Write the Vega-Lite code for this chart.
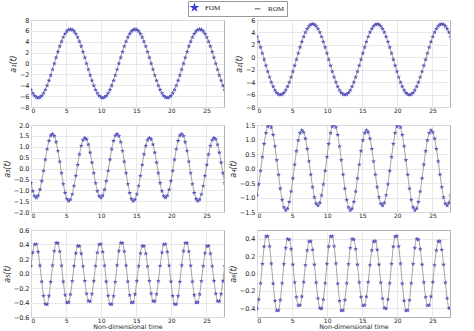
{
"$schema": "https://vega.github.io/schema/vega-lite/v6.json",
"background": "white",
"padding": {"left": 2, "top": 0, "right": 4, "bottom": 0},
"config": {
"font": "DejaVu Sans",
"view": {"stroke": "#b3b3b3", "strokeWidth": 1},
"axis": {"labelFontSize": 6.5, "labelColor": "#222", "titleFontSize": 8, "titleFontWeight": "normal", "titleColor": "#222222", "gridColor": "#e2e2e2", "gridWidth": 0.8, "domain": false, "ticks": false, "tickSize": 0, "labelPadding": 2, "titlePadding": 2},
"axisX": {"labelPadding": 0, "labelFontSize": 6},
"legend": {"labelFont": "Liberation Serif", "labelFontSize": 7, "labelColor": "#222", "symbolSize": 30, "labelOffset": 7}
},
"datasets": {
"a1": [{"t":0,"v":-4.83},{"t":0.26,"v":-5.46},{"t":0.51,"v":-5.92},{"t":0.77,"v":-6.21},{"t":1.02,"v":-6.3},{"t":1.28,"v":-6.21},{"t":1.53,"v":-5.92},{"t":1.79,"v":-5.46},{"t":2.04,"v":-4.83},{"t":2.3,"v":-4.05},{"t":2.56,"v":-3.15},{"t":2.81,"v":-2.15},{"t":3.07,"v":-1.09},{"t":3.32,"v":0},{"t":3.58,"v":1.09},{"t":3.83,"v":2.15},{"t":4.09,"v":3.15},{"t":4.35,"v":4.05},{"t":4.6,"v":4.83},{"t":4.86,"v":5.46},{"t":5.11,"v":5.92},{"t":5.37,"v":6.21},{"t":5.62,"v":6.3},{"t":5.88,"v":6.21},{"t":6.13,"v":5.92},{"t":6.39,"v":5.46},{"t":6.65,"v":4.83},{"t":6.9,"v":4.05},{"t":7.16,"v":3.15},{"t":7.41,"v":2.15},{"t":7.67,"v":1.09},{"t":7.92,"v":0},{"t":8.18,"v":-1.09},{"t":8.43,"v":-2.15},{"t":8.69,"v":-3.15},{"t":8.95,"v":-4.05},
{"t":9.2,"v":-4.83},{"t":9.46,"v":-5.46},{"t":9.71,"v":-5.92},{"t":9.97,"v":-6.21},{"t":10.22,"v":-6.3},{"t":10.48,"v":-6.21},{"t":10.73,"v":-5.92},{"t":10.99,"v":-5.46},{"t":11.25,"v":-4.83},{"t":11.5,"v":-4.05},{"t":11.76,"v":-3.15},{"t":12.01,"v":-2.15},{"t":12.27,"v":-1.09},{"t":12.52,"v":0},{"t":12.78,"v":1.09},{"t":13.04,"v":2.15},{"t":13.29,"v":3.15},{"t":13.55,"v":4.05},{"t":13.8,"v":4.83},{"t":14.06,"v":5.46},{"t":14.31,"v":5.92},{"t":14.57,"v":6.21},{"t":14.82,"v":6.3},{"t":15.08,"v":6.21},{"t":15.34,"v":5.92},{"t":15.59,"v":5.46},{"t":15.85,"v":4.83},{"t":16.1,"v":4.05},{"t":16.36,"v":3.15},{"t":16.61,"v":2.15},{"t":16.87,"v":1.09},{"t":17.13,"v":0},{"t":17.38,"v":-1.09},{"t":17.64,"v":-2.15},{"t":17.89,"v":-3.15},{"t":18.15,"v":-4.05},
{"t":18.4,"v":-4.83},{"t":18.66,"v":-5.46},{"t":18.91,"v":-5.92},{"t":19.17,"v":-6.21},{"t":19.43,"v":-6.3},{"t":19.68,"v":-6.21},{"t":19.94,"v":-5.92},{"t":20.19,"v":-5.46},{"t":20.45,"v":-4.83},{"t":20.7,"v":-4.05},{"t":20.96,"v":-3.15},{"t":21.21,"v":-2.15},{"t":21.47,"v":-1.09},{"t":21.73,"v":0},{"t":21.98,"v":1.09},{"t":22.24,"v":2.15},{"t":22.49,"v":3.15},{"t":22.75,"v":4.05},{"t":23.0,"v":4.83},{"t":23.26,"v":5.46},{"t":23.52,"v":5.92},{"t":23.77,"v":6.21},{"t":24.03,"v":6.3},{"t":24.28,"v":6.21},{"t":24.54,"v":5.92},{"t":24.79,"v":5.46},{"t":25.05,"v":4.83},{"t":25.3,"v":4.05},{"t":25.56,"v":3.15},{"t":25.82,"v":2.15},{"t":26.07,"v":1.09},{"t":26.33,"v":0},{"t":26.58,"v":-1.09},{"t":26.84,"v":-2.15},{"t":27.09,"v":-3.15},{"t":27.35,"v":-4.05},{"t":27.6,"v":-4.83}],
"a2": [{"t":0,"v":3.32},{"t":0.26,"v":2.5},{"t":0.51,"v":1.6},{"t":0.77,"v":0.64},{"t":1.02,"v":-0.35},{"t":1.28,"v":-1.34},{"t":1.53,"v":-2.3},{"t":1.79,"v":-3.2},{"t":2.04,"v":-4.02},{"t":2.3,"v":-4.72},{"t":2.56,"v":-5.29},{"t":2.81,"v":-5.71},{"t":3.07,"v":-5.96},{"t":3.32,"v":-6.05},{"t":3.58,"v":-5.96},{"t":3.83,"v":-5.71},{"t":4.09,"v":-5.29},{"t":4.35,"v":-4.72},{"t":4.6,"v":-4.02},{"t":4.86,"v":-3.2},{"t":5.11,"v":-2.3},{"t":5.37,"v":-1.34},{"t":5.62,"v":-0.35},{"t":5.88,"v":0.64},{"t":6.13,"v":1.6},{"t":6.39,"v":2.5},{"t":6.65,"v":3.32},{"t":6.9,"v":4.02},{"t":7.16,"v":4.59},{"t":7.41,"v":5.01},{"t":7.67,"v":5.26},{"t":7.92,"v":5.35},{"t":8.18,"v":5.26},{"t":8.43,"v":5.01},{"t":8.69,"v":4.59},{"t":8.95,"v":4.02},
{"t":9.2,"v":3.32},{"t":9.46,"v":2.5},{"t":9.71,"v":1.6},{"t":9.97,"v":0.64},{"t":10.22,"v":-0.35},{"t":10.48,"v":-1.34},{"t":10.73,"v":-2.3},{"t":10.99,"v":-3.2},{"t":11.25,"v":-4.02},{"t":11.5,"v":-4.72},{"t":11.76,"v":-5.29},{"t":12.01,"v":-5.71},{"t":12.27,"v":-5.96},{"t":12.52,"v":-6.05},{"t":12.78,"v":-5.96},{"t":13.04,"v":-5.71},{"t":13.29,"v":-5.29},{"t":13.55,"v":-4.72},{"t":13.8,"v":-4.02},{"t":14.06,"v":-3.2},{"t":14.31,"v":-2.3},{"t":14.57,"v":-1.34},{"t":14.82,"v":-0.35},{"t":15.08,"v":0.64},{"t":15.34,"v":1.6},{"t":15.59,"v":2.5},{"t":15.85,"v":3.32},{"t":16.1,"v":4.02},{"t":16.36,"v":4.59},{"t":16.61,"v":5.01},{"t":16.87,"v":5.26},{"t":17.13,"v":5.35},{"t":17.38,"v":5.26},{"t":17.64,"v":5.01},{"t":17.89,"v":4.59},{"t":18.15,"v":4.02},
{"t":18.4,"v":3.32},{"t":18.66,"v":2.5},{"t":18.91,"v":1.6},{"t":19.17,"v":0.64},{"t":19.43,"v":-0.35},{"t":19.68,"v":-1.34},{"t":19.94,"v":-2.3},{"t":20.19,"v":-3.2},{"t":20.45,"v":-4.02},{"t":20.7,"v":-4.72},{"t":20.96,"v":-5.29},{"t":21.21,"v":-5.71},{"t":21.47,"v":-5.96},{"t":21.73,"v":-6.05},{"t":21.98,"v":-5.96},{"t":22.24,"v":-5.71},{"t":22.49,"v":-5.29},{"t":22.75,"v":-4.72},{"t":23.0,"v":-4.02},{"t":23.26,"v":-3.2},{"t":23.52,"v":-2.3},{"t":23.77,"v":-1.34},{"t":24.03,"v":-0.35},{"t":24.28,"v":0.64},{"t":24.54,"v":1.6},{"t":24.79,"v":2.5},{"t":25.05,"v":3.32},{"t":25.3,"v":4.02},{"t":25.56,"v":4.59},{"t":25.82,"v":5.01},{"t":26.07,"v":5.26},{"t":26.33,"v":5.35},{"t":26.58,"v":5.26},{"t":26.84,"v":5.01},{"t":27.09,"v":4.59},{"t":27.35,"v":4.02},{"t":27.6,"v":3.32}],
"a3": [{"t":0,"v":-0.67},{"t":0.26,"v":-1.04},{"t":0.51,"v":-1.27},{"t":0.77,"v":-1.34},{"t":1.02,"v":-1.24},{"t":1.28,"v":-0.97},{"t":1.53,"v":-0.58},{"t":1.79,"v":-0.1},{"t":2.04,"v":0.41},{"t":2.3,"v":0.89},{"t":2.56,"v":1.27},{"t":2.81,"v":1.52},{"t":3.07,"v":1.59},{"t":3.32,"v":1.49},{"t":3.58,"v":1.22},{"t":3.83,"v":0.81},{"t":4.09,"v":0.32},{"t":4.35,"v":-0.21},{"t":4.6,"v":-0.71},{"t":4.86,"v":-1.12},{"t":5.11,"v":-1.39},{"t":5.37,"v":-1.5},{"t":5.62,"v":-1.42},{"t":5.88,"v":-1.18},{"t":6.13,"v":-0.8},{"t":6.39,"v":-0.33},{"t":6.65,"v":0.17},{"t":6.9,"v":0.65},{"t":7.16,"v":1.05},{"t":7.41,"v":1.31},{"t":7.67,"v":1.41},{"t":7.92,"v":1.34},{"t":8.18,"v":1.1},{"t":8.43,"v":0.73},{"t":8.69,"v":0.27},{"t":8.95,"v":-0.21},
{"t":9.2,"v":-0.67},{"t":9.46,"v":-1.04},{"t":9.71,"v":-1.27},{"t":9.97,"v":-1.34},{"t":10.22,"v":-1.24},{"t":10.48,"v":-0.97},{"t":10.73,"v":-0.58},{"t":10.99,"v":-0.1},{"t":11.25,"v":0.41},{"t":11.5,"v":0.89},{"t":11.76,"v":1.27},{"t":12.01,"v":1.52},{"t":12.27,"v":1.59},{"t":12.52,"v":1.49},{"t":12.78,"v":1.22},{"t":13.04,"v":0.81},{"t":13.29,"v":0.32},{"t":13.55,"v":-0.21},{"t":13.8,"v":-0.71},{"t":14.06,"v":-1.12},{"t":14.31,"v":-1.39},{"t":14.57,"v":-1.5},{"t":14.82,"v":-1.42},{"t":15.08,"v":-1.18},{"t":15.34,"v":-0.8},{"t":15.59,"v":-0.33},{"t":15.85,"v":0.17},{"t":16.1,"v":0.65},{"t":16.36,"v":1.05},{"t":16.61,"v":1.31},{"t":16.87,"v":1.41},{"t":17.13,"v":1.34},{"t":17.38,"v":1.1},{"t":17.64,"v":0.73},{"t":17.89,"v":0.27},{"t":18.15,"v":-0.21},
{"t":18.4,"v":-0.67},{"t":18.66,"v":-1.04},{"t":18.91,"v":-1.27},{"t":19.17,"v":-1.34},{"t":19.43,"v":-1.24},{"t":19.68,"v":-0.97},{"t":19.94,"v":-0.58},{"t":20.19,"v":-0.1},{"t":20.45,"v":0.41},{"t":20.7,"v":0.89},{"t":20.96,"v":1.27},{"t":21.21,"v":1.52},{"t":21.47,"v":1.59},{"t":21.73,"v":1.49},{"t":21.98,"v":1.22},{"t":22.24,"v":0.81},{"t":22.49,"v":0.32},{"t":22.75,"v":-0.21},{"t":23.0,"v":-0.71},{"t":23.26,"v":-1.12},{"t":23.52,"v":-1.39},{"t":23.77,"v":-1.5},{"t":24.03,"v":-1.42},{"t":24.28,"v":-1.18},{"t":24.54,"v":-0.8},{"t":24.79,"v":-0.33},{"t":25.05,"v":0.17},{"t":25.3,"v":0.65},{"t":25.56,"v":1.05},{"t":25.82,"v":1.31},{"t":26.07,"v":1.41},{"t":26.33,"v":1.34},{"t":26.58,"v":1.1},{"t":26.84,"v":0.73},{"t":27.09,"v":0.27},{"t":27.35,"v":-0.21},{"t":27.6,"v":-0.67}],
"a4": [{"t":0,"v":-0.92},{"t":0.26,"v":-0.54},{"t":0.51,"v":-0.08},{"t":0.77,"v":0.4},{"t":1.02,"v":0.85},{"t":1.28,"v":1.22},{"t":1.53,"v":1.45},{"t":1.79,"v":1.52},{"t":2.04,"v":1.42},{"t":2.3,"v":1.16},{"t":2.56,"v":0.77},{"t":2.81,"v":0.29},{"t":3.07,"v":-0.21},{"t":3.32,"v":-0.69},{"t":3.58,"v":-1.08},{"t":3.83,"v":-1.34},{"t":4.09,"v":-1.44},{"t":4.35,"v":-1.38},{"t":4.6,"v":-1.15},{"t":4.86,"v":-0.79},{"t":5.11,"v":-0.34},{"t":5.37,"v":0.14},{"t":5.62,"v":0.6},{"t":5.88,"v":0.97},{"t":6.13,"v":1.22},{"t":6.39,"v":1.32},{"t":6.65,"v":1.25},{"t":6.9,"v":1.03},{"t":7.16,"v":0.68},{"t":7.41,"v":0.25},{"t":7.67,"v":-0.21},{"t":7.92,"v":-0.64},{"t":8.18,"v":-0.99},{"t":8.43,"v":-1.21},{"t":8.69,"v":-1.28},{"t":8.95,"v":-1.18},
{"t":9.2,"v":-0.92},{"t":9.46,"v":-0.54},{"t":9.71,"v":-0.08},{"t":9.97,"v":0.4},{"t":10.22,"v":0.85},{"t":10.48,"v":1.22},{"t":10.73,"v":1.45},{"t":10.99,"v":1.52},{"t":11.25,"v":1.42},{"t":11.5,"v":1.16},{"t":11.76,"v":0.77},{"t":12.01,"v":0.29},{"t":12.27,"v":-0.21},{"t":12.52,"v":-0.69},{"t":12.78,"v":-1.08},{"t":13.04,"v":-1.34},{"t":13.29,"v":-1.44},{"t":13.55,"v":-1.38},{"t":13.8,"v":-1.15},{"t":14.06,"v":-0.79},{"t":14.31,"v":-0.34},{"t":14.57,"v":0.14},{"t":14.82,"v":0.6},{"t":15.08,"v":0.97},{"t":15.34,"v":1.22},{"t":15.59,"v":1.32},{"t":15.85,"v":1.25},{"t":16.1,"v":1.03},{"t":16.36,"v":0.68},{"t":16.61,"v":0.25},{"t":16.87,"v":-0.21},{"t":17.13,"v":-0.64},{"t":17.38,"v":-0.99},{"t":17.64,"v":-1.21},{"t":17.89,"v":-1.28},{"t":18.15,"v":-1.18},
{"t":18.4,"v":-0.92},{"t":18.66,"v":-0.54},{"t":18.91,"v":-0.08},{"t":19.17,"v":0.4},{"t":19.43,"v":0.85},{"t":19.68,"v":1.22},{"t":19.94,"v":1.45},{"t":20.19,"v":1.52},{"t":20.45,"v":1.42},{"t":20.7,"v":1.16},{"t":20.96,"v":0.77},{"t":21.21,"v":0.29},{"t":21.47,"v":-0.21},{"t":21.73,"v":-0.69},{"t":21.98,"v":-1.08},{"t":22.24,"v":-1.34},{"t":22.49,"v":-1.44},{"t":22.75,"v":-1.38},{"t":23.0,"v":-1.15},{"t":23.26,"v":-0.79},{"t":23.52,"v":-0.34},{"t":23.77,"v":0.14},{"t":24.03,"v":0.6},{"t":24.28,"v":0.97},{"t":24.54,"v":1.22},{"t":24.79,"v":1.32},{"t":25.05,"v":1.25},{"t":25.3,"v":1.03},{"t":25.56,"v":0.68},{"t":25.82,"v":0.25},{"t":26.07,"v":-0.21},{"t":26.33,"v":-0.64},{"t":26.58,"v":-0.99},{"t":26.84,"v":-1.21},{"t":27.09,"v":-1.28},{"t":27.35,"v":-1.18},{"t":27.6,"v":-0.92}],
"a5": [{"t":0,"v":0.105},{"t":0.26,"v":0.29},{"t":0.51,"v":0.401},{"t":0.77,"v":0.405},{"t":1.02,"v":0.299},{"t":1.28,"v":0.111},{"t":1.53,"v":-0.112},{"t":1.79,"v":-0.307},{"t":2.04,"v":-0.422},{"t":2.3,"v":-0.424},{"t":2.56,"v":-0.311},{"t":2.81,"v":-0.114},{"t":3.07,"v":0.114},{"t":3.32,"v":0.31},{"t":3.58,"v":0.422},{"t":3.83,"v":0.419},{"t":4.09,"v":0.305},{"t":4.35,"v":0.111},{"t":4.6,"v":-0.11},{"t":4.86,"v":-0.297},{"t":5.11,"v":-0.401},{"t":5.37,"v":-0.397},{"t":5.62,"v":-0.287},{"t":5.88,"v":-0.104},{"t":6.13,"v":0.103},{"t":6.39,"v":0.28},{"t":6.65,"v":0.38},{"t":6.9,"v":0.378},{"t":7.16,"v":0.276},{"t":7.41,"v":0.101},{"t":7.67,"v":-0.101},{"t":7.92,"v":-0.277},{"t":8.18,"v":-0.38},{"t":8.43,"v":-0.382},{"t":8.69,"v":-0.282},{"t":8.95,"v":-0.104},
{"t":9.2,"v":0.105},{"t":9.46,"v":0.29},{"t":9.71,"v":0.401},{"t":9.97,"v":0.405},{"t":10.22,"v":0.299},{"t":10.48,"v":0.111},{"t":10.73,"v":-0.112},{"t":10.99,"v":-0.307},{"t":11.25,"v":-0.422},{"t":11.5,"v":-0.424},{"t":11.76,"v":-0.311},{"t":12.01,"v":-0.114},{"t":12.27,"v":0.114},{"t":12.52,"v":0.31},{"t":12.78,"v":0.422},{"t":13.04,"v":0.419},{"t":13.29,"v":0.305},{"t":13.55,"v":0.111},{"t":13.8,"v":-0.11},{"t":14.06,"v":-0.297},{"t":14.31,"v":-0.401},{"t":14.57,"v":-0.397},{"t":14.82,"v":-0.287},{"t":15.08,"v":-0.104},{"t":15.34,"v":0.103},{"t":15.59,"v":0.28},{"t":15.85,"v":0.38},{"t":16.1,"v":0.378},{"t":16.36,"v":0.276},{"t":16.61,"v":0.101},{"t":16.87,"v":-0.101},{"t":17.13,"v":-0.277},{"t":17.38,"v":-0.38},{"t":17.64,"v":-0.382},{"t":17.89,"v":-0.282},{"t":18.15,"v":-0.104},
{"t":18.4,"v":0.105},{"t":18.66,"v":0.29},{"t":18.91,"v":0.401},{"t":19.17,"v":0.405},{"t":19.43,"v":0.299},{"t":19.68,"v":0.111},{"t":19.94,"v":-0.112},{"t":20.19,"v":-0.307},{"t":20.45,"v":-0.422},{"t":20.7,"v":-0.424},{"t":20.96,"v":-0.311},{"t":21.21,"v":-0.114},{"t":21.47,"v":0.114},{"t":21.73,"v":0.31},{"t":21.98,"v":0.422},{"t":22.24,"v":0.419},{"t":22.49,"v":0.305},{"t":22.75,"v":0.111},{"t":23.0,"v":-0.11},{"t":23.26,"v":-0.297},{"t":23.52,"v":-0.401},{"t":23.77,"v":-0.397},{"t":24.03,"v":-0.287},{"t":24.28,"v":-0.104},{"t":24.54,"v":0.103},{"t":24.79,"v":0.28},{"t":25.05,"v":0.38},{"t":25.3,"v":0.378},{"t":25.56,"v":0.276},{"t":25.82,"v":0.101},{"t":26.07,"v":-0.101},{"t":26.33,"v":-0.277},{"t":26.58,"v":-0.38},{"t":26.84,"v":-0.382},{"t":27.09,"v":-0.282},{"t":27.35,"v":-0.104},{"t":27.6,"v":0.105}],
"a6": [{"t":0,"v":-0.402},{"t":0.26,"v":-0.298},{"t":0.51,"v":-0.111},{"t":0.77,"v":0.112},{"t":1.02,"v":0.309},{"t":1.28,"v":0.425},{"t":1.53,"v":0.428},{"t":1.79,"v":0.314},{"t":2.04,"v":0.115},{"t":2.3,"v":-0.115},{"t":2.56,"v":-0.313},{"t":2.81,"v":-0.425},{"t":3.07,"v":-0.422},{"t":3.32,"v":-0.306},{"t":3.58,"v":-0.111},{"t":3.83,"v":0.109},{"t":4.09,"v":0.294},{"t":4.35,"v":0.396},{"t":4.6,"v":0.39},{"t":4.86,"v":0.281},{"t":5.11,"v":0.102},{"t":5.37,"v":-0.1},{"t":5.62,"v":-0.271},{"t":5.88,"v":-0.367},{"t":6.13,"v":-0.364},{"t":6.39,"v":-0.265},{"t":6.65,"v":-0.097},{"t":6.9,"v":0.097},{"t":7.16,"v":0.267},{"t":7.41,"v":0.367},{"t":7.67,"v":0.37},{"t":7.92,"v":0.274},{"t":8.18,"v":0.102},{"t":8.43,"v":-0.103},{"t":8.69,"v":-0.286},{"t":8.95,"v":-0.396},
{"t":9.2,"v":-0.402},{"t":9.46,"v":-0.298},{"t":9.71,"v":-0.111},{"t":9.97,"v":0.112},{"t":10.22,"v":0.309},{"t":10.48,"v":0.425},{"t":10.73,"v":0.428},{"t":10.99,"v":0.314},{"t":11.25,"v":0.115},{"t":11.5,"v":-0.115},{"t":11.76,"v":-0.313},{"t":12.01,"v":-0.425},{"t":12.27,"v":-0.422},{"t":12.52,"v":-0.306},{"t":12.78,"v":-0.111},{"t":13.04,"v":0.109},{"t":13.29,"v":0.294},{"t":13.55,"v":0.396},{"t":13.8,"v":0.39},{"t":14.06,"v":0.281},{"t":14.31,"v":0.102},{"t":14.57,"v":-0.1},{"t":14.82,"v":-0.271},{"t":15.08,"v":-0.367},{"t":15.34,"v":-0.364},{"t":15.59,"v":-0.265},{"t":15.85,"v":-0.097},{"t":16.1,"v":0.097},{"t":16.36,"v":0.267},{"t":16.61,"v":0.367},{"t":16.87,"v":0.37},{"t":17.13,"v":0.274},{"t":17.38,"v":0.102},{"t":17.64,"v":-0.103},{"t":17.89,"v":-0.286},{"t":18.15,"v":-0.396},
{"t":18.4,"v":-0.402},{"t":18.66,"v":-0.298},{"t":18.91,"v":-0.111},{"t":19.17,"v":0.112},{"t":19.43,"v":0.309},{"t":19.68,"v":0.425},{"t":19.94,"v":0.428},{"t":20.19,"v":0.314},{"t":20.45,"v":0.115},{"t":20.7,"v":-0.115},{"t":20.96,"v":-0.313},{"t":21.21,"v":-0.425},{"t":21.47,"v":-0.422},{"t":21.73,"v":-0.306},{"t":21.98,"v":-0.111},{"t":22.24,"v":0.109},{"t":22.49,"v":0.294},{"t":22.75,"v":0.396},{"t":23.0,"v":0.39},{"t":23.26,"v":0.281},{"t":23.52,"v":0.102},{"t":23.77,"v":-0.1},{"t":24.03,"v":-0.271},{"t":24.28,"v":-0.367},{"t":24.54,"v":-0.364},{"t":24.79,"v":-0.265},{"t":25.05,"v":-0.097},{"t":25.3,"v":0.097},{"t":25.56,"v":0.267},{"t":25.82,"v":0.367},{"t":26.07,"v":0.37},{"t":26.33,"v":0.274},{"t":26.58,"v":0.102},{"t":26.84,"v":-0.103},{"t":27.09,"v":-0.286},{"t":27.35,"v":-0.396},{"t":27.6,"v":-0.402}]
},
"columns": 2,
"spacing": {"row": 18, "column": 33},
"bounds": "flush",
"concat": [
{"width": 193, "height": 87, "data": {"name": "a1"},
 "encoding": {"x": {"field": "t", "type": "quantitative", "scale": {"domain": [0, 27.5], "nice": false}, "axis": {"values": [0,5,10,15,20,25], "title": null}},
  "y": {"field": "v", "type": "quantitative", "scale": {"domain": [-8, 8], "nice": false, "zero": false}, "axis": {"values": [-8,-6,-4,-2,0,2,4,6,8], "title": "a₁(t)", "titleFontStyle": "italic"}}},
 "layer": [
  {"mark": {"type": "point", "filled": true, "size": 24, "opacity": 0.95, "clip": true}, "encoding": {"color": {"datum": "FOM", "scale": {"domain": ["FOM","ROM"], "range": ["#3434cc","#858585"]}, "legend": {"title": null, "orient": "none", "legendX": 157, "legendY": -19, "direction": "horizontal", "strokeColor": "#999999", "fillColor": "#ffffff", "padding": 3, "columnPadding": 30}}, "shape": {"datum": "FOM", "scale": {"domain": ["FOM","ROM"], "range": ["M0,-1L0.2245,-0.309L0.951,-0.309L0.3633,0.118L0.5878,0.809L0,0.382L-0.5878,0.809L-0.3633,0.118L-0.951,-0.309L-0.2245,-0.309Z", "stroke"]}, "legend": {"title": null, "orient": "none", "legendX": 157, "legendY": -19, "direction": "horizontal", "strokeColor": "#999999", "fillColor": "#ffffff", "padding": 3, "columnPadding": 30}}}},
  {"mark": {"type": "line", "strokeWidth": 0.75, "interpolate": "monotone", "clip": true}, "encoding": {"color": {"datum": "ROM"}}}
 ]},
{"width": 193, "height": 87, "data": {"name": "a2"},
 "encoding": {"x": {"field": "t", "type": "quantitative", "scale": {"domain": [0, 27.5], "nice": false}, "axis": {"values": [0,5,10,15,20,25], "title": null}},
  "y": {"field": "v", "type": "quantitative", "scale": {"domain": [-8, 6], "nice": false, "zero": false}, "axis": {"values": [-8,-6,-4,-2,0,2,4,6], "title": "a₂(t)", "titleFontStyle": "italic"}}},
 "layer": [
  {"mark": {"type": "point", "filled": true, "size": 24, "opacity": 0.95, "clip": true}, "encoding": {"color": {"datum": "FOM"}, "shape": {"datum": "FOM"}}},
  {"mark": {"type": "line", "strokeWidth": 0.75, "interpolate": "monotone", "clip": true}, "encoding": {"color": {"datum": "ROM"}}}
 ]},
{"width": 193, "height": 87, "data": {"name": "a3"},
 "encoding": {"x": {"field": "t", "type": "quantitative", "scale": {"domain": [0, 27.5], "nice": false}, "axis": {"values": [0,5,10,15,20,25], "title": null}},
  "y": {"field": "v", "type": "quantitative", "scale": {"domain": [-2, 2], "nice": false, "zero": false}, "axis": {"values": [-2,-1.5,-1,-0.5,0,0.5,1,1.5,2], "format": ".1f", "title": "a₃(t)", "titleFontStyle": "italic"}}},
 "layer": [
  {"mark": {"type": "point", "filled": true, "size": 24, "opacity": 0.95, "clip": true}, "encoding": {"color": {"datum": "FOM"}, "shape": {"datum": "FOM"}}},
  {"mark": {"type": "line", "strokeWidth": 0.75, "interpolate": "monotone", "clip": true}, "encoding": {"color": {"datum": "ROM"}}}
 ]},
{"width": 193, "height": 87, "data": {"name": "a4"},
 "encoding": {"x": {"field": "t", "type": "quantitative", "scale": {"domain": [0, 27.5], "nice": false}, "axis": {"values": [0,5,10,15,20,25], "title": null}},
  "y": {"field": "v", "type": "quantitative", "scale": {"domain": [-1.5, 1.5], "nice": false, "zero": false}, "axis": {"values": [-1.5,-1,-0.5,0,0.5,1,1.5], "format": ".1f", "title": "a₄(t)", "titleFontStyle": "italic"}}},
 "layer": [
  {"mark": {"type": "point", "filled": true, "size": 24, "opacity": 0.95, "clip": true}, "encoding": {"color": {"datum": "FOM"}, "shape": {"datum": "FOM"}}},
  {"mark": {"type": "line", "strokeWidth": 0.75, "interpolate": "monotone", "clip": true}, "encoding": {"color": {"datum": "ROM"}}}
 ]},
{"width": 193, "height": 87, "data": {"name": "a5"},
 "encoding": {"x": {"field": "t", "type": "quantitative", "scale": {"domain": [0, 27.5], "nice": false}, "axis": {"values": [0,5,10,15,20,25], "title": "Non-dimensional time", "titleFontSize": 6.3, "titlePadding": 0, "titleColor": "#222222"}},
  "y": {"field": "v", "type": "quantitative", "scale": {"domain": [-0.6, 0.6], "nice": false, "zero": false}, "axis": {"values": [-0.6,-0.4,-0.2,0,0.2,0.4,0.6], "format": ".1f", "title": "a₅(t)", "titleFontStyle": "italic"}}},
 "layer": [
  {"mark": {"type": "point", "filled": true, "size": 24, "opacity": 0.95, "clip": true}, "encoding": {"color": {"datum": "FOM"}, "shape": {"datum": "FOM"}}},
  {"mark": {"type": "line", "strokeWidth": 0.75, "interpolate": "monotone", "clip": true}, "encoding": {"color": {"datum": "ROM"}}}
 ]},
{"width": 193, "height": 87, "data": {"name": "a6"},
 "encoding": {"x": {"field": "t", "type": "quantitative", "scale": {"domain": [0, 27.5], "nice": false}, "axis": {"values": [0,5,10,15,20,25], "title": "Non-dimensional time", "titleFontSize": 6.3, "titlePadding": 0, "titleColor": "#222222"}},
  "y": {"field": "v", "type": "quantitative", "scale": {"domain": [-0.5, 0.5], "nice": false, "zero": false}, "axis": {"values": [-0.4,-0.2,0,0.2,0.4], "format": ".1f", "title": "a₆(t)", "titleFontStyle": "italic"}}},
 "layer": [
  {"mark": {"type": "point", "filled": true, "size": 24, "opacity": 0.95, "clip": true}, "encoding": {"color": {"datum": "FOM"}, "shape": {"datum": "FOM"}}},
  {"mark": {"type": "line", "strokeWidth": 0.75, "interpolate": "monotone", "clip": true}, "encoding": {"color": {"datum": "ROM"}}}
 ]}
]
}
